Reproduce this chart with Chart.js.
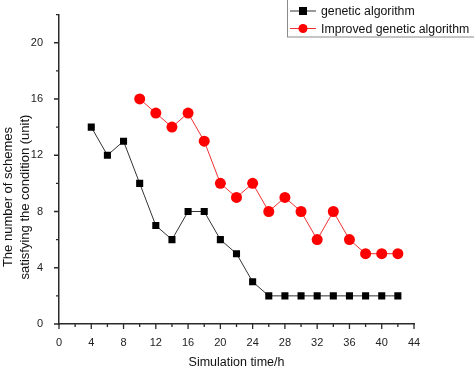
<!DOCTYPE html>
<html>
<head>
<meta charset="utf-8">
<script src="https://cdn.jsdelivr.net/npm/chart.js@4.4.1/dist/chart.umd.min.js"></script>
<style>
  html, body { margin: 0; padding: 0; background: #fff; }
  #wrap { width: 474px; height: 370px; }
</style>
</head>
<body>
<div id="wrap"><canvas id="chart" width="474" height="370"></canvas></div>
<script>
const timeGA = [4, 6, 8, 10, 12, 14, 16, 18, 20, 22, 24, 26, 28, 30, 32, 34, 36, 38, 40, 42];
const schemesGA = [14, 12, 13, 10, 7, 6, 8, 8, 6, 5, 3, 2, 2, 2, 2, 2, 2, 2, 2, 2];
const timeIGA = [10, 12, 14, 16, 18, 20, 22, 24, 26, 28, 30, 32, 34, 36, 38, 40, 42];
const schemesIGA = [16, 15, 14, 15, 13, 10, 9, 10, 8, 9, 8, 6, 8, 6, 5, 5, 5];
const seriesNames = ['genetic algorithm', 'Improved genetic algorithm'];
const xTitle = 'Simulation time/h';
const yTitle = ['The number of schemes', 'satisfying the condition (unit)'];

const FONT = 'Liberation Sans, Arial, sans-serif';
const AXIS = '#2a2a2a';

// outward ticks: long every 4, short in between
const axisTicks = {
  id: 'axisTicks',
  afterDraw(chart) {
    const { ctx, scales: { x, y } } = chart;
    ctx.save();
    ctx.strokeStyle = AXIS;
    ctx.lineWidth = 1.3;
    ctx.beginPath();
    for (let v = 0; v <= 44; v += 2) {
      const px = x.getPixelForValue(v);
      const len = v % 4 === 0 ? 5 : 3;
      ctx.moveTo(px, y.bottom);
      ctx.lineTo(px, y.bottom + len);
    }
    for (let v = 0; v <= 22; v += 2) {
      const py = y.getPixelForValue(v);
      const len = v % 4 === 0 ? 5 : 3;
      ctx.moveTo(x.left, py);
      ctx.lineTo(x.left - len, py);
    }
    ctx.stroke();
    ctx.restore();
  }
};

// y title sits a bit below the middle of the plot, drawn by hand
const yTitlePlugin = {
  id: 'yTitlePlugin',
  afterDraw(chart) {
    const ctx = chart.ctx;
    ctx.save();
    ctx.translate(0, 197);
    ctx.rotate(-Math.PI / 2);
    ctx.font = '13px ' + FONT;
    ctx.fillStyle = '#111';
    ctx.textAlign = 'center';
    ctx.textBaseline = 'middle';
    ctx.fillText(yTitle[0], 0, 8);
    ctx.fillText(yTitle[1], 0, 25);
    ctx.restore();
  }
};

// legend box in the top right corner
const boxLegend = {
  id: 'boxLegend',
  afterDraw(chart) {
    const ctx = chart.ctx;
    ctx.save();
    ctx.fillStyle = '#fff';
    ctx.fillRect(287.5, -1, 200, 38);
    ctx.strokeStyle = '#8a8a8a';
    ctx.lineWidth = 1;
    ctx.strokeRect(287.5, -1, 200, 38);
    ctx.font = '12.3px ' + FONT;
    ctx.textBaseline = 'middle';
    chart.data.datasets.forEach((ds, i) => {
      const cy = 11 + i * 17.5;
      ctx.strokeStyle = ds.borderColor;
      ctx.lineWidth = 1;
      ctx.beginPath();
      ctx.moveTo(290, cy);
      ctx.lineTo(316, cy);
      ctx.stroke();
      ctx.fillStyle = ds.pointBackgroundColor;
      if (ds.pointStyle === 'rect') {
        ctx.fillRect(303 - 4, cy - 4, 8, 8);
      } else {
        ctx.beginPath();
        ctx.arc(303, cy, 4.5, 0, Math.PI * 2);
        ctx.fill();
      }
      ctx.fillStyle = '#111';
      ctx.fillText(ds.label, 321, cy + 1);
    });
    ctx.restore();
  }
};

new Chart(document.getElementById('chart'), {
  type: 'line',
  data: {
    datasets: [
      {
        label: seriesNames[0],
        data: timeGA.map((t, i) => ({ x: t, y: schemesGA[i] })),
        borderColor: '#333',
        borderWidth: 1,
        pointStyle: 'rect',
        pointRadius: 5,
        pointBackgroundColor: '#000',
        pointBorderColor: '#000',
        pointBorderWidth: 0
      },
      {
        label: seriesNames[1],
        data: timeIGA.map((t, i) => ({ x: t, y: schemesIGA[i] })),
        borderColor: '#f03030',
        borderWidth: 1,
        pointStyle: 'circle',
        pointRadius: 5.5,
        pointBackgroundColor: '#ff0000',
        pointBorderColor: '#ff0000',
        pointBorderWidth: 0
      }
    ]
  },
  options: {
    responsive: false,
    animation: false,
    layout: { padding: { top: 12, right: 60, left: 0, bottom: 0 } },
    plugins: { legend: { display: false }, tooltip: { enabled: false } },
    scales: {
      x: {
        type: 'linear',
        min: 0, max: 44,
        grid: { display: false },
        border: { display: true, color: AXIS, width: 1.5 },
        ticks: {
          stepSize: 4,
          padding: 4,
          color: '#222',
          font: { family: FONT, size: 11 }
        },
        title: {
          display: true,
          text: xTitle,
          color: '#111',
          font: { family: FONT, size: 12.5 },
          padding: { top: 2, bottom: 0 }
        },
        afterFit(scale) { scale.height = 46; }
      },
      y: {
        min: 0, max: 22,
        grid: { display: false },
        border: { display: true, color: AXIS, width: 1.5 },
        ticks: {
          stepSize: 2,
          padding: 8,
          color: '#222',
          font: { family: FONT, size: 11 },
          callback: v => (v % 4 === 0 && v <= 20 ? v : '')
        },
        afterFit(scale) { scale.width = 59; }
      }
    }
  },
  plugins: [axisTicks, yTitlePlugin, boxLegend]
});
</script>
</body>
</html>
